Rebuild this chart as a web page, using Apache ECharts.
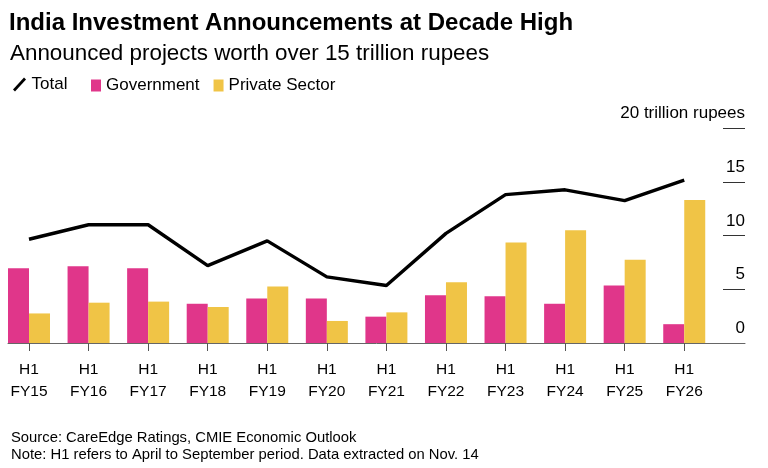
<!DOCTYPE html>
<html>
<head>
<meta charset="utf-8">
<script src="https://cdn.jsdelivr.net/npm/echarts@6/dist/echarts.min.js"></script>
<style>
html,body{margin:0;padding:0;background:#fff;}
#c{width:768px;height:468px;}
</style>
</head>
<body>
<div id="c"></div>
<script>
const categories = ['FY15','FY16','FY17','FY18','FY19','FY20','FY21','FY22','FY23','FY24','FY25','FY26'];
const government = [6.95, 7.15, 6.95, 3.65, 4.15, 4.15, 2.45, 4.45, 4.35, 3.65, 5.35, 1.75];
const privateSector = [2.75, 3.75, 3.85, 3.35, 5.25, 2.05, 2.85, 5.65, 9.35, 10.5, 7.75, 13.3];
const total = [9.65, 11.0, 11.0, 7.2, 9.5, 6.15, 5.35, 10.2, 13.8, 14.25, 13.25, 15.15];
const yTicks = [0, 5, 10, 15, 20];

const FONT = 'Liberation Sans, Arial, Helvetica, sans-serif';
const idx = categories.map((_, i) => i);
const pair = arr => arr.map((v, i) => [i, v]);

const chart = echarts.init(document.getElementById('c'), null, {renderer: 'canvas'});
chart.setOption({
  animation: false,
  backgroundColor: '#fff',
  textStyle: {fontFamily: FONT, color: '#000'},
  title: [
    {text: 'India Investment Announcements at Decade High', left: 4, top: 6,
     textStyle: {fontFamily: FONT, fontSize: 24, fontWeight: 'bold', color: '#000'}},
    {text: 'Announced projects worth over 15 trillion rupees', left: 5, top: 38,
     textStyle: {fontFamily: FONT, fontSize: 22.4, fontWeight: 'normal', color: '#000'}},
    {text: 'Source: CareEdge Ratings, CMIE Economic Outlook\nNote: H1 refers to April to September period. Data extracted on Nov. 14',
     left: 6, top: 424,
     textStyle: {fontFamily: FONT, fontSize: 14.8, fontWeight: 'normal', color: '#000', lineHeight: 17}}
  ],
  legend: [
    {data: [{name: 'Total', icon: 'path://M0,12 L11,0 L13,2 L2,14 Z'}], left: 8, top: 71,
     itemWidth: 14, itemHeight: 14, itemGap: 8, selectedMode: false,
     textStyle: {fontFamily: FONT, fontSize: 17, color: '#000'}},
    {data: ['Government', 'Private Sector'], left: 86, top: 72, icon: 'rect',
     itemWidth: 10, itemHeight: 12, itemGap: 14, selectedMode: false,
     textStyle: {fontFamily: FONT, fontSize: 17, color: '#000'}}
  ],
  grid: [
    {left: 8, right: 23, top: 128, bottom: 125, containLabel: false},
    {left: 723, right: 23, top: 128, bottom: 125, containLabel: false}
  ],
  xAxis: [
    {
      type: 'value', gridIndex: 0, min: -0.3525, max: 12.02,
      splitLine: {show: false},
      axisLine: {show: true, lineStyle: {color: '#666', width: 1}},
      axisTick: {show: true, length: 8, customValues: idx, lineStyle: {color: '#555', width: 1}},
      axisLabel: {
        customValues: idx, margin: 16, fontFamily: FONT, fontSize: 15.5, color: '#000', lineHeight: 22,
        formatter: v => 'H1\n' + categories[Math.round(v)]
      }
    },
    {type: 'value', gridIndex: 1, min: 0, max: 1, show: false}
  ],
  yAxis: [
    {type: 'value', gridIndex: 0, min: 0, max: 20, interval: 5, show: false, splitLine: {show: false}},
    {
      type: 'value', gridIndex: 1, position: 'right', min: 0, max: 20, interval: 5,
      axisLine: {show: false},
      axisTick: {show: false},
      splitLine: {show: true, lineStyle: {color: ['#666', '#333', '#333', '#333', '#333'], width: 1}},
      axisLabel: {
        inside: true, margin: 0, align: 'right', verticalAlign: 'bottom',
        padding: [0, 0, 6, 0], fontFamily: FONT, fontSize: 17, color: '#000',
        formatter: v => v === 20 ? '20 trillion rupees' : String(v)
      }
    }
  ],
  series: [
    {name: 'Government', type: 'bar', xAxisIndex: 0, yAxisIndex: 0, data: pair(government), barWidth: 21, barGap: '0%',
     itemStyle: {color: '#E0368A'}, z: 2},
    {name: 'Private Sector', type: 'bar', xAxisIndex: 0, yAxisIndex: 0, data: pair(privateSector), barWidth: 21, barGap: '0%',
     itemStyle: {color: '#F0C446'}, z: 2},
    {name: 'Total', type: 'line', xAxisIndex: 0, yAxisIndex: 0, data: pair(total), showSymbol: false, symbol: 'none',
     lineStyle: {color: '#000', width: 3.4}, itemStyle: {color: '#000'}, z: 3}
  ]
});
</script>
</body>
</html>
